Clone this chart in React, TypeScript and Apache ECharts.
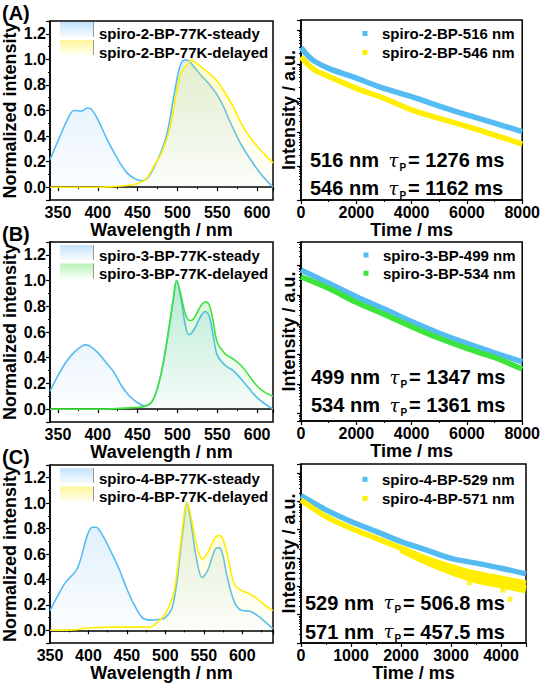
import React, { useEffect, useRef } from 'react';
import * as echarts from 'echarts';

// ---------------- data ----------------
const spiro2Steady: [number, number][] = [
  [340, 0.216], [354, 0.42], [362, 0.53], [370, 0.6], [379, 0.595], [387, 0.62], [392, 0.61],
  [400, 0.53], [412, 0.37], [425, 0.22], [437, 0.11], [447, 0.065], [455, 0.05], [462, 0.07],
  [471, 0.16], [479, 0.27], [487, 0.42], [496, 0.73], [502, 0.92], [507, 0.99], [512, 0.995],
  [519, 0.955], [529, 0.88], [542, 0.79], [554, 0.68], [567, 0.5], [579, 0.345], [592, 0.215],
  [604, 0.11], [620, 0.0],
];
const spiro2Delayed: [number, number][] = [
  [340, 0.0], [400, 0.0], [420, 0.005], [440, 0.015], [450, 0.03], [460, 0.06], [470, 0.16],
  [480, 0.27], [490, 0.45], [500, 0.78], [505, 0.9], [512, 0.955], [517, 0.995], [522, 0.98],
  [530, 0.94], [540, 0.89], [550, 0.83], [560, 0.735], [570, 0.63], [580, 0.5], [590, 0.4],
  [600, 0.32], [610, 0.255], [620, 0.19],
];
const spiro3Steady: [number, number][] = [
  [340, 0.14], [350, 0.26], [360, 0.365], [370, 0.44], [380, 0.49], [385, 0.5], [390, 0.49],
  [400, 0.44], [410, 0.365], [420, 0.29], [430, 0.18], [440, 0.1], [450, 0.05], [460, 0.026],
  [470, 0.08], [480, 0.29], [490, 0.65], [495, 0.86], [499, 1.0], [505, 0.835], [510, 0.65],
  [514, 0.58], [520, 0.61], [530, 0.73], [535, 0.76], [540, 0.72], [545, 0.57], [550, 0.42],
  [560, 0.34], [570, 0.3], [580, 0.235], [590, 0.16], [600, 0.09], [610, 0.04], [620, 0.0],
];
const spiro3Delayed: [number, number][] = [
  [340, 0.0], [400, 0.0], [440, 0.01], [460, 0.025], [470, 0.08], [480, 0.29], [490, 0.66],
  [495, 0.87], [499, 1.0], [505, 0.87], [510, 0.74], [515, 0.69], [520, 0.7], [530, 0.81],
  [535, 0.835], [540, 0.81], [545, 0.68], [550, 0.52], [560, 0.43], [570, 0.39], [580, 0.34],
  [590, 0.26], [600, 0.18], [610, 0.13], [620, 0.1],
];
const spiro4Steady: [number, number][] = [
  [350, 0.155], [360, 0.27], [370, 0.375], [380, 0.44], [385, 0.48], [390, 0.56], [395, 0.675],
  [400, 0.77], [405, 0.81], [410, 0.81], [415, 0.78], [420, 0.73], [430, 0.61], [440, 0.48],
  [450, 0.325], [460, 0.195], [470, 0.1], [480, 0.08], [490, 0.085], [500, 0.1], [510, 0.2],
  [520, 0.64], [525, 0.9], [528, 1.0], [532, 0.9], [540, 0.58], [548, 0.415], [555, 0.47],
  [565, 0.64], [570, 0.65], [575, 0.585], [580, 0.43], [590, 0.22], [600, 0.155], [610, 0.15],
  [620, 0.115], [630, 0.065], [640, 0.013],
];
const spiro4Delayed: [number, number][] = [
  [350, 0.0], [380, 0.003], [400, 0.018], [430, 0.025], [460, 0.025], [480, 0.026], [490, 0.065],
  [500, 0.13], [510, 0.27], [515, 0.45], [520, 0.69], [525, 0.935], [528, 1.0], [532, 0.935],
  [540, 0.69], [545, 0.585], [548, 0.56], [555, 0.61], [565, 0.73], [570, 0.745], [575, 0.715],
  [580, 0.61], [590, 0.36], [600, 0.31], [610, 0.285], [620, 0.245], [630, 0.195], [640, 0.155],
];

const timeA = [0, 250, 500, 1000, 2000, 3000, 4000, 5000, 6000, 7000, 8000];
const decay516 = [30200, 17380, 11750, 7410, 3800, 1905, 1096, 575, 316, 182, 102];
const decay546 = [16220, 9550, 6610, 4270, 1905, 977, 447, 251, 145, 81, 44];

const timeB = [0, 1000, 2000, 3000, 4000, 5000, 6000, 7000, 8000];
const decay499 = [69200, 24550, 8710, 3390, 1259, 513, 234, 112, 56];
const decay534 = [40740, 16600, 5620, 2240, 851, 347, 158, 78, 32];

const timeC = [0, 500, 1000, 1500, 2000, 2500, 3000, 3500, 4000, 4500];
const decay529 = [158500, 50100, 19500, 8710, 3800, 1950, 977, 661, 437, 275];
const decay571 = [112200, 28840, 11220, 5010, 2240, 977, 501, 288, 195, 129];
const timeC571Tail = [2000, 2500, 3000, 3500, 4000, 4500];
const decay571Tail = [2090, 794, 347, 178, 117, 79];
const decay571Outliers: [number, number][] = [[3366, 135], [4040, 74], [4180, 35]];

const panelLetters = ['(A)', '(B)', '(C)'];
const legendLeft = [
  ['spiro-2-BP-77K-steady', 'spiro-2-BP-77K-delayed'],
  ['spiro-3-BP-77K-steady', 'spiro-3-BP-77K-delayed'],
  ['spiro-4-BP-77K-steady', 'spiro-4-BP-77K-delayed'],
];
const legendRight = [
  ['spiro-2-BP-516 nm', 'spiro-2-BP-546 nm'],
  ['spiro-3-BP-499 nm', 'spiro-3-BP-534 nm'],
  ['spiro-4-BP-529 nm', 'spiro-4-BP-571 nm'],
];
const annotWl = [['516 nm', '546 nm'], ['499 nm', '534 nm'], ['529 nm', '571 nm']];
const annotTau = [['1276 ms', '1162 ms'], ['1347 ms', '1361 ms'], ['506.8 ms', '457.5 ms']];
const specRanges = [[340, 620], [340, 620], [350, 640]];
const decayMax = [8000, 8000, 4500];
const decayInterval = [2000, 2000, 1000];
const logRanges = [[1, 195000], [0.57, 600000], [1, 2090000]];

// ---------------- styles / layout ----------------
const FONT = '"Liberation Sans", Arial, Helvetica, sans-serif';
const BLUE = '#55BCF3';
const YELLOW = '#FFEE00';
const GREEN = '#3CE43C';
const specGrids = [
  { left: 49, top: 21, width: 224, height: 179 },
  { left: 49, top: 242, width: 224, height: 180 },
  { left: 49, top: 465, width: 224, height: 178 },
];
const decayGrids = [
  { left: 301, top: 20, width: 225, height: 180 },
  { left: 301, top: 242, width: 225, height: 179 },
  { left: 301, top: 464, width: 225, height: 179 },
];
const legLeftPos = [
  { r1: 22, r2: 40, t1: 33, t2: 52.5 },
  { r1: 245, r2: 263.5, t1: 255, t2: 273.3 },
  { r1: 468, r2: 486.5, t1: 478.3, t2: 496.7 },
];
const legRightPos = [
  { x: 365, tx: 382, y1: 33.5, y2: 52.5 },
  { x: 366, tx: 383, y1: 255, y2: 273.3 },
  { x: 365, tx: 382, y1: 479.3, y2: 498.3 },
];
const annotPos = [
  { x: 310, y1: 160.3, y2: 188.3 },
  { x: 311, y1: 377.3, y2: 405 },
  { x: 305, y1: 602.7, y2: 631.7 },
];
const letterY = [12.5, 233.5, 456.5];

const zip = (a: number[], b: number[]) => a.map((t, i) => [t, b[i]]);
const vGrad = (c0: string, c1: string) =>
  new echarts.graphic.LinearGradient(0, 0, 0, 1, [
    { offset: 0, color: c0 },
    { offset: 1, color: c1 },
  ]);

function minorLogValues(lo: number, hi: number) {
  const out: number[] = [];
  for (let e = -1; e <= 6; e++) {
    for (let m = 2; m <= 9; m++) {
      const v = Number((m * Math.pow(10, e)).toPrecision(6));
      if (v > lo && v < hi) out.push(v);
    }
  }
  return out;
}

function buildOption() {
  const grid: any[] = [];
  const xAxis: any[] = [];
  const yAxis: any[] = [];
  const series: any[] = [];
  const graphic: any[] = [];
  const labelStyle = { fontFamily: FONT, fontWeight: 'bold', fontSize: 16, color: '#000' };
  const nameStyle = { fontFamily: FONT, fontWeight: 'bold', fontSize: 18, color: '#000' };
  const axisLine = { show: true, lineStyle: { color: '#000', width: 1.5 } };

  const steadyData = [spiro2Steady, spiro3Steady, spiro4Steady];
  const delayedData = [spiro2Delayed, spiro3Delayed, spiro4Delayed];
  const delayedColor = [YELLOW, GREEN, YELLOW];
  const delayedFill = ['rgba(255,238,40,', 'rgba(60,225,60,', 'rgba(255,238,40,'];
  const decayT = [timeA, timeB, timeC];
  const decay1 = [decay516, decay499, decay529];
  const decay2 = [decay546, decay534, decay571];
  const decayColor2 = [YELLOW, GREEN, YELLOW];

  for (let k = 0; k < 3; k++) {
    const gs = 2 * k;
    const gd = 2 * k + 1;
    grid[gs] = { ...specGrids[k], show: true, borderColor: '#000', borderWidth: 1.5 };
    grid[gd] = { ...decayGrids[k], show: true, borderColor: '#000', borderWidth: 1.5 };

    // spectral axes
    xAxis[gs] = {
      type: 'value', gridIndex: gs, min: specRanges[k][0], max: specRanges[k][1], splitNumber: 6,
      axisLine, splitLine: { show: false },
      axisTick: { show: true, length: 4, lineStyle: { color: '#000', width: 1.2 } },
      minorTick: { show: true, splitNumber: 2, length: 2, lineStyle: { color: '#000', width: 1 } },
      axisLabel: { ...labelStyle, margin: 4, formatter: (v: number) => (v % 50 === 0 ? String(v) : '') },
      name: 'Wavelength / nm', nameLocation: 'middle', nameGap: 21, nameTextStyle: nameStyle,
    };
    yAxis[gs] = {
      type: 'value', gridIndex: gs, min: -0.1, max: 1.3, splitNumber: 7, position: 'left',
      axisLine, splitLine: { show: false },
      axisTick: { show: true, length: 4, lineStyle: { color: '#000', width: 1.2 } },
      minorTick: { show: true, splitNumber: 2, length: 2, lineStyle: { color: '#000', width: 1 } },
      axisLabel: {
        ...labelStyle, margin: 4,
        formatter: (v: number) => {
          const r = Math.round(v * 10);
          return Math.abs(v * 10 - r) < 1e-6 && r >= 0 && r % 2 === 0 && r <= 12 ? (r / 10).toFixed(1) : '';
        },
      },
      name: 'Normalized intensity', nameLocation: 'middle', nameGap: 31, nameTextStyle: nameStyle,
    };

    // decay axes
    xAxis[gd] = {
      type: 'value', gridIndex: gd, min: 0, max: decayMax[k], interval: decayInterval[k],
      axisLine, splitLine: { show: false },
      axisTick: { show: true, length: 4, lineStyle: { color: '#000', width: 1.2 } },
      minorTick: { show: true, splitNumber: 2, length: 2, lineStyle: { color: '#000', width: 1 } },
      axisLabel: { ...labelStyle, margin: 4, formatter: (v: number) => (v % decayInterval[k] === 0 ? String(v) : '') },
      name: 'Time / ms', nameLocation: 'middle', nameGap: 21, nameTextStyle: nameStyle,
    };
    yAxis[gd] = {
      type: 'log', logBase: 10, gridIndex: gd, min: logRanges[k][0], max: logRanges[k][1], position: 'left',
      axisLine, splitLine: { show: false },
      axisTick: { show: true, length: 4, lineStyle: { color: '#000', width: 1.2 } },
      axisLabel: { show: false },
      name: 'Intensity / a.u.', nameLocation: 'middle', nameGap: 3, nameTextStyle: nameStyle,
    };

    series.push({
      type: 'line', xAxisIndex: gs, yAxisIndex: gs, data: steadyData[k], smooth: 0.35,
      symbol: 'none', lineStyle: { color: BLUE, width: 1.6 },
      areaStyle: { color: vGrad('rgba(110,185,240,0.35)', 'rgba(110,185,240,0.03)') }, z: 2,
    });
    series.push({
      type: 'line', xAxisIndex: gs, yAxisIndex: gs, data: delayedData[k], smooth: 0.35,
      symbol: 'none', lineStyle: { color: delayedColor[k], width: 1.6 },
      areaStyle: { color: vGrad(delayedFill[k] + '0.32)', delayedFill[k] + '0.03)') }, z: 3,
    });
    series.push({
      type: 'line', xAxisIndex: gd, yAxisIndex: gd, data: zip(decayT[k], decay1[k]), smooth: 0.3,
      symbol: 'none', lineStyle: { color: BLUE, width: 5.5 }, z: 2,
    });
    series.push({
      type: 'line', xAxisIndex: gd, yAxisIndex: gd, data: zip(decayT[k], decay2[k]), smooth: 0.3,
      symbol: 'none', lineStyle: { color: decayColor2[k], width: 5.5 }, z: 3,
    });

    // legends (left)
    const L = legLeftPos[k];
    graphic.push(
      { type: 'rect', shape: { x: 60, y: L.r1, width: 33, height: 15 }, style: { fill: vGrad('#c4e2fa', '#f6fbff') }, z: 100 },
      { type: 'rect', shape: { x: 60, y: L.r2, width: 33, height: 15 },
        style: { fill: k === 1 ? vGrad('#b8f2b8', '#f6fff6') : vGrad('#fff59a', '#fffff2') }, z: 100 },
      { type: 'line', shape: { x1: 93.5, y1: L.r1, x2: 93.5, y2: L.r1 + 15 }, style: { stroke: '#999', lineWidth: 1 }, z: 101 },
      { type: 'line', shape: { x1: 93.5, y1: L.r2, x2: 93.5, y2: L.r2 + 15 }, style: { stroke: '#999', lineWidth: 1 }, z: 101 },
      { type: 'text', x: 99, y: L.t1, style: { text: legendLeft[k][0], font: `bold 15px ${FONT}`, fill: '#000', verticalAlign: 'middle' }, z: 101 },
      { type: 'text', x: 99, y: L.t2, style: { text: legendLeft[k][1], font: `bold 15px ${FONT}`, fill: '#000', verticalAlign: 'middle' }, z: 101 },
    );
    // legends (right)
    const R = legRightPos[k];
    graphic.push(
      { type: 'rect', shape: { x: R.x - 2.5, y: R.y1 - 2.5, width: 5, height: 5 }, style: { fill: BLUE }, z: 100 },
      { type: 'rect', shape: { x: R.x - 2.5, y: R.y2 - 2.5, width: 5, height: 5 }, style: { fill: decayColor2[k] }, z: 100 },
      { type: 'text', x: R.tx, y: R.y1, style: { text: legendRight[k][0], font: `bold 15px ${FONT}`, fill: '#000', verticalAlign: 'middle' }, z: 101 },
      { type: 'text', x: R.tx, y: R.y2, style: { text: legendRight[k][1], font: `bold 15px ${FONT}`, fill: '#000', verticalAlign: 'middle' }, z: 101 },
    );
    // annotations
    const A = annotPos[k];
    const rich = {
      n: { fontFamily: FONT, fontWeight: 'bold', fontSize: 20, lineHeight: 24, color: '#000' },
      t: { fontFamily: '"DejaVu Serif", serif', fontStyle: 'italic', fontSize: 18, lineHeight: 24, color: '#000', padding: [0, 0, 0, 4] },
      s: { fontFamily: FONT, fontWeight: 'bold', fontSize: 10, lineHeight: 12, color: '#000', verticalAlign: 'bottom', padding: [0, 2, 0, 1] },
    };
    [0, 1].forEach((j) => {
      graphic.push({
        type: 'text', x: A.x, y: j === 0 ? A.y1 : A.y2, z: 101,
        style: { text: `{n|${annotWl[k][j]} }{t|τ}{s|P}{n|= ${annotTau[k][j]}}`, rich, verticalAlign: 'middle' },
      });
    });
    graphic.push({
      type: 'text', x: 2, y: letterY[k], z: 101,
      style: { text: panelLetters[k], font: `bold 20px ${FONT}`, fill: '#000', verticalAlign: 'middle' },
    });
  }

  // minor log ticks (extra axes on the decay grids)
  for (let k = 0; k < 3; k++) {
    yAxis.push({
      type: 'log', logBase: 10, gridIndex: 2 * k + 1, min: logRanges[k][0], max: logRanges[k][1], position: 'left',
      axisLine: { show: false }, splitLine: { show: false }, axisLabel: { show: false },
      axisTick: { show: true, length: 2, customValues: minorLogValues(logRanges[k][0], logRanges[k][1]), lineStyle: { color: '#000', width: 1 } },
    });
  }

  // tail scatter of the 571 nm decay
  series.push({
    type: 'line', xAxisIndex: 5, yAxisIndex: 5, data: zip(timeC571Tail, decay571Tail), smooth: 0.3,
    symbol: 'none', lineStyle: { color: YELLOW, width: 8 }, z: 3,
  });
  series.push({
    type: 'scatter', xAxisIndex: 5, yAxisIndex: 5, data: decay571Outliers, symbol: 'rect', symbolSize: 5,
    itemStyle: { color: YELLOW }, z: 3,
  });

  return { animation: false, backgroundColor: '#fff', grid, xAxis, yAxis, series, graphic };
}

export default function App() {
  const ref = useRef<HTMLDivElement>(null);
  useEffect(() => {
    const chart = echarts.init(ref.current!, null, { renderer: 'svg' });
    chart.setOption(buildOption() as any);
    return () => chart.dispose();
  }, []);
  return <div ref={ref} style={{ position: 'absolute', left: 0, top: 0, width: 543, height: 685 }} />;
}
